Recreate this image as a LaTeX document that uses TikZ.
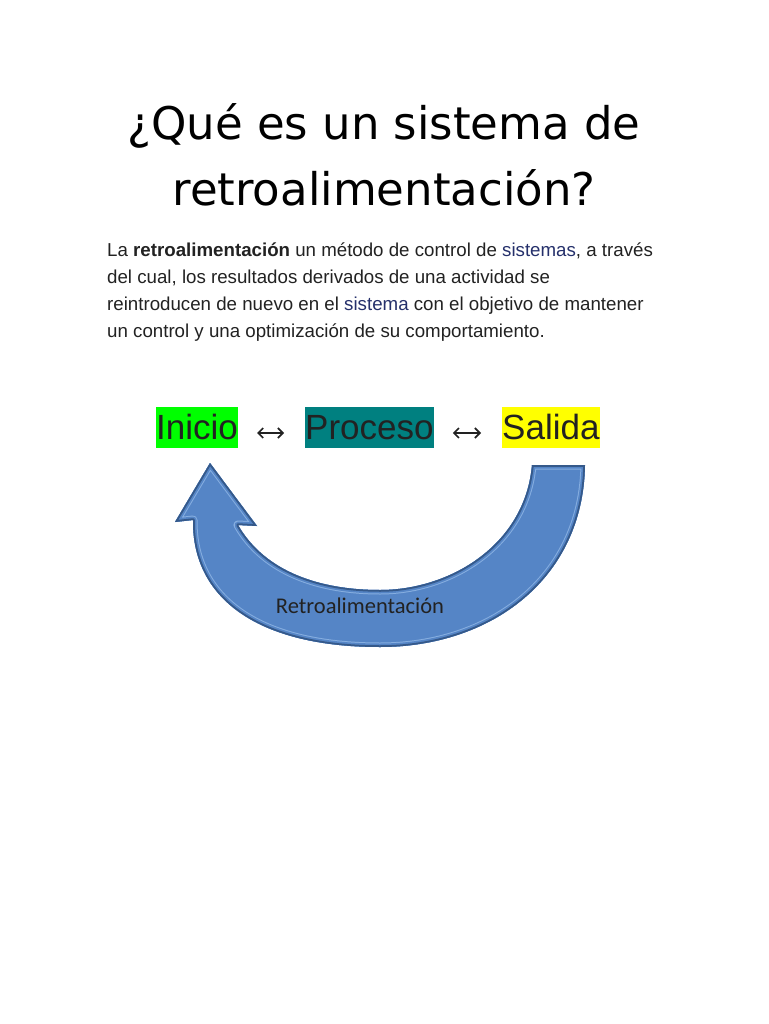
\documentclass[tikz,border=0pt]{standalone}
\usepackage{fontspec}
\setmainfont{Liberation Sans}
\newfontfamily\titlefont{DejaVu Sans}
\newfontfamily\calloutfont{Carlito}
\usepackage{xcolor}
\usepackage{tikz}
\usetikzlibrary{arrows.meta,positioning}
\definecolor{Ink}{HTML}{222222}
\definecolor{Link}{HTML}{25306B}
\definecolor{Lime}{HTML}{00FF00}
\definecolor{Teal}{HTML}{008080}
\definecolor{Sun}{HTML}{FFFF00}
\definecolor{ArrowBlue}{HTML}{5585C6}
\definecolor{ArrowLight}{HTML}{86AEE0}
\definecolor{ArrowDark}{HTML}{35598A}
\tikzset{
  title/.style={font=\titlefont\fontsize{45}{54}\selectfont,text=black,anchor=base,inner sep=0pt},
  body/.style={font=\fontsize{18.7}{27}\selectfont,text=Ink,anchor=base west,inner sep=0pt},
  stage/.style={font=\fontsize{35}{40}\selectfont,text=Ink,anchor=base west,inner sep=0pt,text height=32pt,text depth=9pt},
  link/.style={{Straight Barb[length=5pt,width=10pt]}-{Straight Barb[length=5pt,width=10pt]},line width=1.6pt,draw=Ink,shorten <=19pt,shorten >=21pt},
  callout/.style={font=\calloutfont\fontsize{22.5}{27}\selectfont,text=Ink,anchor=base,inner sep=0pt}
}
% outline of the curved feedback arrow (pixel coordinates)
\newcommand\feedbackarrow{(585,465) .. controls (583,580) and (490,647) .. (380,647)
  .. controls (260,647) and (192,600) .. (193,520)
  -- (175,522) -- (210,463) -- (257,526) -- (238,525)
  .. controls (265,572) and (320,590) .. (380,590)
  .. controls (450,590) and (525,545) .. (532,465)
  -- cycle}

\begin{document}
\begin{tikzpicture}[x=1pt,y=-1pt]
  \useasboundingbox (0,0) rectangle (768,1024);
  \fill[white] (0,0) rectangle (768,1024);

  % heading
  \node[title] (title1) at (384,140) {¿Qué es un sistema de};
  \node[title] (title2) at (384,206) {retroalimentación?};

  % paragraph
  \node[body] (body1) at (107,256) {La \textbf{retroalimentación} un método de control de \textcolor{Link}{sistemas}, a través};
  \node[body] (body2) at (107,283) {del cual, los resultados derivados de una actividad se};
  \node[body] (body3) at (107,310) {reintroducen de nuevo en el \textcolor{Link}{sistema} con el objetivo de mantener};
  \node[body] (body4) at (107,337) {un control y una optimización de su comportamiento.};

  % stages
  \node[stage,fill=Lime] (inicio) at (156,439) {Inicio};
  \node[stage,fill=Teal] (proceso) at (305,439) {Proceso};
  \node[stage,fill=Sun] (salida) at (502,439) {Salida};
  \draw[link] ([yshift=-5.5pt]inicio.east) -- ([yshift=-5.5pt]proceso.west);
  \draw[link] ([yshift=-5.5pt]proceso.east) -- ([yshift=-5.5pt]salida.west);

  % curved arrow
  \fill[ArrowBlue] \feedbackarrow;
  \begin{scope}
    \clip \feedbackarrow;
    \draw[ArrowLight,line width=9pt,line join=round] \feedbackarrow;
    \draw[ArrowBlue,line width=7pt,line join=round] \feedbackarrow;
    \draw[ArrowDark,line width=3.5pt,line join=round] \feedbackarrow;
  \end{scope}
  \node[callout] (feedback) at (360,613) {Retroalimentación};
\end{tikzpicture}
\end{document}
